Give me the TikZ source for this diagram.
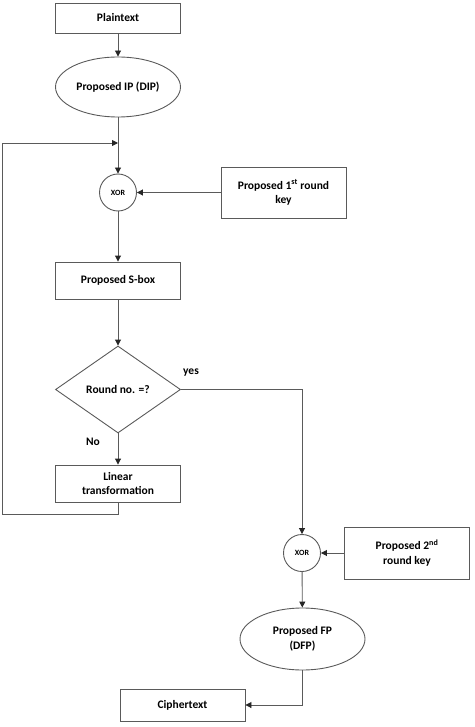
\documentclass[tikz,border=0pt]{standalone}
\usepackage{fontspec}
\setmainfont{Carlito}
\usetikzlibrary{shapes.geometric, arrows.meta}
\definecolor{linegray}{RGB}{90,90,90}

\begin{document}
\begin{tikzpicture}[x=1pt, y=-1pt,
  font=\bfseries\fontsize{11.5}{14.5}\selectfont,
  block/.style={draw=linegray, line width=0.9pt, minimum width=125pt, minimum height=30pt, align=center, inner sep=2pt},
  oval/.style={ellipse, draw=linegray, line width=0.9pt, minimum width=125pt, minimum height=60pt, align=center, inner sep=1pt},
  xorgate/.style={circle, draw=linegray, line width=0.9pt, minimum size=37pt, inner sep=0pt, font=\bfseries\fontsize{8}{9}\selectfont},
  decision/.style={diamond, draw=linegray, line width=0.9pt, minimum width=125pt, minimum height=87pt, inner sep=0pt},
  flow/.style={draw=linegray, line width=0.9pt, -{Triangle[length=6pt, width=6pt, color=black!85]}}]

\useasboundingbox (0,0) rectangle (474,727);

% Main column
\node[block] (plain) at (118,18) {Plaintext};
\node[oval] (dip) at (118,87) {Proposed IP (DIP)};
\node[xorgate] (xor1) at (118,192.5) {XOR};
\node[block, minimum height=51pt] (key1) at (283.5,192.5) {Proposed 1\textsuperscript{st} round\\key};
\node[block, minimum height=37pt] (sbox) at (118,280.5) {Proposed S-box};
\node[decision] (round) at (118,389.5) {Round no. =?};
\node[block, minimum height=37pt] (lin) at (118,483.5) {Linear\\transformation};

% Last round
\node[xorgate] (xor2) at (302,553) {XOR};
\node[block, minimum height=52pt] (key2) at (407,553) {Proposed 2\textsuperscript{nd}\\round key};
\node[oval, minimum height=62pt] (dfp) at (302.5,639) {Proposed FP\\(DFP)};
\node[block, minimum height=32pt] (cipher) at (182.5,705) {Ciphertext};

% Labels
\node (yes) at (191,373) {yes};
\node (no) at (93,442) {No};

\coordinate (merge) at (118,143);
\coordinate (loopcorner) at (2,514);

% Connectors
\draw[flow] (plain) -- (dip);
\draw[flow] (dip) -- (xor1);
\draw[flow] (key1) -- (xor1);
\draw[flow] (xor1) -- (sbox);
\draw[flow] (sbox) -- (round);
\draw[flow] (round) -- (lin);
\draw[flow] (lin.south) |- (loopcorner) |- (merge);
\draw[flow] (round.east) -| (xor2.north);
\draw[flow] (key2) -- (xor2);
\draw[flow] (xor2) -- (dfp);
\draw[flow] (dfp.south) |- (cipher.east);

\end{tikzpicture}
\end{document}
